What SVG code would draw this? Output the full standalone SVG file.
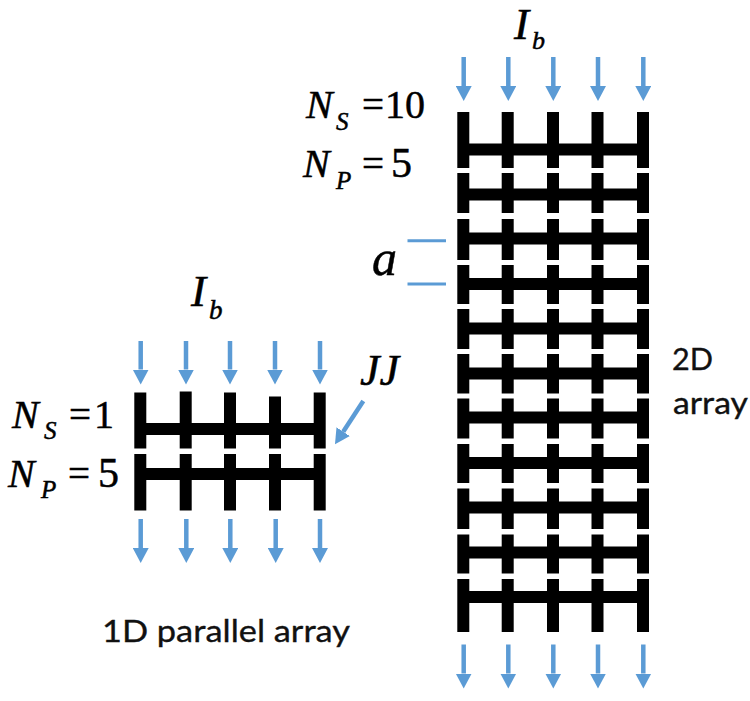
<svg xmlns="http://www.w3.org/2000/svg" width="750" height="701" viewBox="0 0 750 701">
<style>
.c{fill:none;stroke:#000;stroke-width:12}
.a{fill:none;stroke:#5b9bd5;stroke-width:4.5;marker-end:url(#h)}
.l{fill:none;stroke:#5b9bd5;stroke-width:3}
.m{font-family:"Liberation Serif","Times New Roman",serif;fill:#000;stroke:#000;stroke-width:.5}
.i{font-style:italic}
.s{font-family:Lato,"Liberation Sans",sans-serif;font-size:31px;fill:#111;stroke:#111;stroke-width:.35}
</style>
<defs>
<marker id="h" markerUnits="userSpaceOnUse" markerWidth="16" markerHeight="16" refX="0" refY="8" orient="auto" viewBox="0 0 16 16"><path d="M0 0L15 8L0 16Z" fill="#5b9bd5"/></marker>
</defs>
<rect width="750" height="701" fill="#fff"/>
<g id="array-1d">
<g id="r1-1"><path class="c" d="M140.3 392.5V448.5M185.7 391.5V448.5M230 392.5V448.5M275 396.5V448.5M319.7 392.5V448.5M140 429H320"/></g>
<g id="r1-2"><path class="c" d="M140.3 454V510.5M185.7 454V510.5M230 454V510.5M275 454V510.5M319.7 454V510.5M140 474H320"/></g>
</g>
<g id="array-2d">
<g id="r2-1"><path class="c" d="M463.3 112V168M507.7 112V168M553 112V168M597.5 112V168M643 112V168M463 149.5H643"/></g>
<g id="r2-2"><path class="c" d="M463.3 173V213M507.7 173V213M553 173V213M597.5 173V213M643 173V213M463 194.5H643"/></g>
<g id="r2-3"><path class="c" d="M463.3 219V260M507.7 219V260M553 219V260M597.5 219V260M643 219V260M463 238.5H643"/></g>
<g id="r2-4"><path class="c" d="M463.3 265V304M507.7 265V304M553 265V304M597.5 265V304M643 265V304M463 284H643"/></g>
<g id="r2-5"><path class="c" d="M463.3 309V349M507.7 309V349M553 309V349M597.5 309V349M643 309V349M463 328.5H643"/></g>
<g id="r2-6"><path class="c" d="M463.3 354V393.5M507.7 354V393.5M553 354V393.5M597.5 354V393.5M643 354V393.5M463 373.5H643"/></g>
<g id="r2-7"><path class="c" d="M463.3 398.5V438.5M507.7 398.5V438.5M553 398.5V438.5M597.5 398.5V438.5M643 398.5V438.5M463 417.5H643"/></g>
<g id="r2-8"><path class="c" d="M463.3 444V483M507.7 444V483M553 444V483M597.5 444V483M643 444V483M463 463H643"/></g>
<g id="r2-9"><path class="c" d="M463.3 488.5V529M507.7 488.5V529M553 488.5V529M597.5 488.5V529M643 488.5V529M463 507.5H643"/></g>
<g id="r2-10"><path class="c" d="M463.3 534.5V573.5M507.7 534.5V573.5M553 534.5V573.5M597.5 534.5V573.5M643 534.5V573.5M463 552.5H643"/></g>
<g id="r2-11"><path class="c" d="M463.3 579V632M507.7 579V632M553 579V632M597.5 579V632M643 579V632M463 597H643"/></g>
</g>
<g id="connectors">
<path class="a" d="M140.7 341V369.5"/><path class="a" d="M186 341V369.5"/><path class="a" d="M230 341V369.5"/><path class="a" d="M275 341V369.5"/><path class="a" d="M320 341V369.5"/>
<path class="a" d="M140.7 519V548"/><path class="a" d="M186.3 519V548"/><path class="a" d="M230.3 519V548"/><path class="a" d="M275.7 519V548"/><path class="a" d="M320 519V548"/>
<path class="a" d="M463.7 57V86"/><path class="a" d="M508.3 57V86"/><path class="a" d="M553.3 57V86"/><path class="a" d="M598 57V86"/><path class="a" d="M643.3 57V86"/>
<path class="a" d="M463.7 644.5V673.5"/><path class="a" d="M508.3 644.5V673.5"/><path class="a" d="M553.3 644.5V673.5"/><path class="a" d="M598 644.5V673.5"/><path class="a" d="M643.3 644.5V673.5"/>
<path class="a" d="M363.3 401L343.2 431.7"/>
<path class="l" d="M407.5 240.7H446"/><path class="l" d="M407.5 284H446"/>
</g>
<g id="labels">
<text class="m i" x="514" y="39" font-size="45">I</text><text class="m i" x="532" y="49" font-size="26">b</text>
<text class="m i" x="306" y="118" font-size="40">N</text><text class="m i" x="336" y="129.5" font-size="25">S</text><text class="m" x="362" y="118" font-size="39">=</text><text class="m" x="385" y="118" font-size="40">10</text>
<text class="m i" x="303" y="176.7" font-size="40">N</text><text class="m i" x="336" y="189" font-size="25">P</text><text class="m" x="362" y="176.7" font-size="39">=</text><text class="m" x="391" y="176.7" font-size="42">5</text>
<text class="m i" x="372" y="275" font-size="50">a</text>
<text class="m i" x="191" y="305.7" font-size="45">I</text><text class="m i" x="209" y="319" font-size="27">b</text>
<text class="m i" x="12" y="427.7" font-size="40">N</text><text class="m i" x="44" y="438.5" font-size="25">S</text><text class="m" x="69" y="427.7" font-size="39">=</text><text class="m" x="94" y="427.7" font-size="40">1</text>
<text class="m i" x="8" y="486.7" font-size="40">N</text><text class="m i" x="41" y="497.7" font-size="25">P</text><text class="m" x="68" y="486.7" font-size="39">=</text><text class="m" x="98" y="486.7" font-size="42">5</text>
<text class="m i" x="360" y="385" font-size="44">JJ</text>
<text class="s" x="102" y="641.7" textLength="248" lengthAdjust="spacingAndGlyphs">1D parallel array</text>
<text class="s" x="672" y="369.5" textLength="41" lengthAdjust="spacingAndGlyphs">2D</text>
<text class="s" x="673" y="414" textLength="75" lengthAdjust="spacingAndGlyphs">array</text>
</g>
</svg>
